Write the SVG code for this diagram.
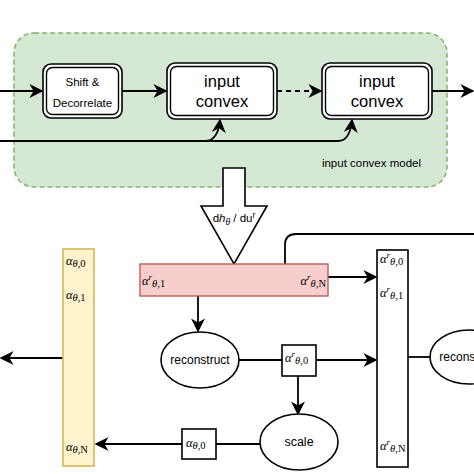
<svg xmlns="http://www.w3.org/2000/svg" width="474" height="474" viewBox="0 0 474 474">
<defs>
<style>
.ln{fill:none;stroke:#000;stroke-width:1.8}
.box{fill:#fff;stroke:#000;stroke-width:1.6}
.sans{font-family:"Liberation Sans",Arial,sans-serif;fill:#000}
.m{font-family:"Liberation Serif","Times New Roman",serif;font-style:italic;font-size:12.5px;fill:#000}
.up{font-style:normal}
</style>
<marker id="arb" viewBox="0 0 10 10" refX="9" refY="5" markerWidth="14" markerHeight="14" markerUnits="userSpaceOnUse" orient="auto">
<path d="M0,0 L10,5 L0,10 L3,5 Z" fill="#000"/>
</marker>
</defs>
<rect width="474" height="474" fill="#fff"/>

<g id="model">
<rect x="14" y="33" width="433" height="154" rx="20" fill="#d5e8d4" stroke="#82b366" stroke-width="1.5" stroke-dasharray="5,3"/>
<text class="sans" x="421" y="167" font-size="11.5" text-anchor="end">input convex model</text>
</g>

<g id="connectors">
<line class="ln" x1="0" y1="91" x2="42" y2="91" marker-end="url(#arb)"/>
<line class="ln" x1="122" y1="91" x2="166" y2="91" marker-end="url(#arb)"/>
<line class="ln" x1="277" y1="91" x2="321" y2="91" stroke-dasharray="5,4" marker-end="url(#arb)"/>
<line class="ln" x1="432" y1="91" x2="473" y2="91" marker-end="url(#arb)"/>
<path class="ln" d="M0,141 H205 Q218,141 220,120" marker-end="url(#arb)"/>
<path class="ln" d="M205,141 H338 Q350,141 352,120" marker-end="url(#arb)"/>
<path class="ln" d="M285,264 V245 Q285,234 296,234 H474"/>
<line class="ln" x1="328" y1="277" x2="376" y2="277" marker-end="url(#arb)"/>
<line class="ln" x1="198" y1="296" x2="198" y2="331" marker-end="url(#arb)"/>
<line class="ln" x1="238" y1="360" x2="282" y2="360"/>
<line class="ln" x1="316" y1="360" x2="376" y2="360" marker-end="url(#arb)"/>
<line class="ln" x1="298" y1="376" x2="298" y2="414" marker-end="url(#arb)"/>
<line class="ln" x1="260" y1="444" x2="216" y2="444"/>
<line class="ln" x1="182" y1="444" x2="96" y2="444" marker-end="url(#arb)"/>
<line class="ln" x1="63" y1="358" x2="1" y2="358" marker-end="url(#arb)"/>
<line class="ln" x1="408" y1="357" x2="430" y2="357"/>
</g>

<g id="shift">
<rect x="43" y="64" width="79" height="54" rx="8" class="box" stroke-width="1.4"/>
<rect x="46.5" y="67.5" width="72" height="47" rx="6" fill="none" stroke="#000" stroke-width="1.4"/>
<text class="sans" x="82.5" y="86" font-size="11.5" text-anchor="middle">Shift &amp;</text>
<text class="sans" x="82.5" y="107" font-size="11.5" text-anchor="middle">Decorrelate</text>
</g>

<g id="convex1">
<rect x="167" y="63" width="110" height="56" rx="8" class="box" stroke-width="1.4"/>
<rect x="170.5" y="66.5" width="103" height="49" rx="6" fill="none" stroke="#000" stroke-width="1.4"/>
<text class="sans" x="222" y="87" font-size="16.5" text-anchor="middle">input</text>
<text class="sans" x="222" y="107" font-size="16.5" text-anchor="middle">convex</text>
</g>

<g id="convex2">
<rect x="322" y="63" width="110" height="56" rx="8" class="box" stroke-width="1.4"/>
<rect x="325.5" y="66.5" width="103" height="49" rx="6" fill="none" stroke="#000" stroke-width="1.4"/>
<text class="sans" x="377" y="87" font-size="16.5" text-anchor="middle">input</text>
<text class="sans" x="377" y="107" font-size="16.5" text-anchor="middle">convex</text>
</g>

<g id="gradient">
<polygon points="223,168 245,168 245,206 267,206 234,264 201,206 223,206" fill="#fff" stroke="#000" stroke-width="1.6"/>
<text class="sans" x="234" y="222" font-size="11.5" text-anchor="middle">d<tspan font-style="italic">h</tspan><tspan font-size="8.5" dy="3" font-style="italic">θ</tspan><tspan dy="-3"> / du</tspan><tspan font-size="8.5" dy="-4">r</tspan></text>
</g>

<g id="pink">
<rect x="140" y="264" width="188" height="32" fill="#f8cecc" stroke="#b85450" stroke-width="1.3"/>
<text class="m" x="142" y="285">α<tspan font-size="9" dy="-5">r</tspan><tspan font-size="10.5" dy="7">θ</tspan><tspan font-size="10.5" class="up">,1</tspan></text>
<text class="m" x="326" y="285" text-anchor="end">α<tspan font-size="9" dy="-5">r</tspan><tspan font-size="10.5" dy="7">θ</tspan><tspan font-size="10.5" class="up">,N</tspan></text>
</g>

<g id="rightbar">
<rect x="377" y="250" width="31" height="217" class="box"/>
<text class="m" x="380" y="263">α<tspan font-size="9" dy="-5">r</tspan><tspan font-size="10.5" dy="7">θ</tspan><tspan font-size="10.5" class="up">,0</tspan></text>
<text class="m" x="380" y="297">α<tspan font-size="9" dy="-5">r</tspan><tspan font-size="10.5" dy="7">θ</tspan><tspan font-size="10.5" class="up">,1</tspan></text>
<text class="m" x="380" y="450">α<tspan font-size="9" dy="-5">r</tspan><tspan font-size="10.5" dy="7">θ</tspan><tspan font-size="10.5" class="up">,N</tspan></text>
</g>

<g id="yellowbar">
<rect x="63" y="249" width="31" height="217" fill="#fff2cc" stroke="#d6b656" stroke-width="1.6"/>
<text class="m" x="66" y="265">α<tspan font-size="10.5" dy="2">θ</tspan><tspan font-size="10.5" class="up">,0</tspan></text>
<text class="m" x="66" y="299">α<tspan font-size="10.5" dy="2">θ</tspan><tspan font-size="10.5" class="up">,1</tspan></text>
<text class="m" x="66" y="451">α<tspan font-size="10.5" dy="2">θ</tspan><tspan font-size="10.5" class="up">,N</tspan></text>
</g>

<g id="reconstruct">
<ellipse cx="200" cy="360" rx="39" ry="28" class="box"/>
<text class="sans" x="200" y="364" font-size="12" text-anchor="middle">reconstruct</text>
</g>

<g id="reconstruct2">
<ellipse cx="469" cy="357" rx="39" ry="27" class="box"/>
<text class="sans" x="469" y="361" font-size="12" text-anchor="middle">reconstruct</text>
</g>

<g id="ar0box">
<rect x="282" y="345" width="34" height="31" class="box"/>
<text class="m" x="285" y="362">α<tspan font-size="9" dy="-5">r</tspan><tspan font-size="10.5" dy="7">θ</tspan><tspan font-size="10.5" class="up">,0</tspan></text>
</g>

<g id="scale">
<ellipse cx="299" cy="442" rx="39" ry="28" class="box"/>
<text class="sans" x="299" y="446" font-size="12.5" text-anchor="middle">scale</text>
</g>

<g id="a0box">
<rect x="182" y="429" width="34" height="30" class="box"/>
<text class="m" x="186" y="447">α<tspan font-size="10.5" dy="2">θ</tspan><tspan font-size="10.5" class="up">,0</tspan></text>
</g>
</svg>
